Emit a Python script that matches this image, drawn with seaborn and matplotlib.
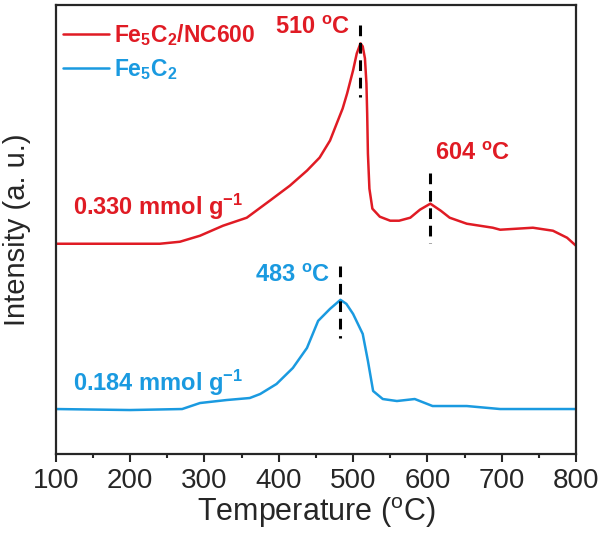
import numpy as np
import matplotlib
matplotlib.use("Agg")
import matplotlib.pyplot as plt
import seaborn as sns

# TPD curves (arbitrary intensity units)
temp_nc600 = [100, 186, 240, 267, 294, 325, 357, 388, 415, 438, 455, 469, 478,
              486, 492, 500, 505, 510, 513, 516, 518, 519, 520, 522, 526, 536,
              550, 562, 577, 590, 604, 618, 630, 653, 688, 698, 742, 769, 788, 800]
int_nc600 = [210, 210, 210, 212, 218, 228, 236, 253, 268, 283, 296, 313, 330,
             345, 360, 383, 400, 410, 407, 395, 370, 340, 300, 265, 245, 237,
             233, 233, 236, 244, 250, 243, 236, 230, 226, 224, 226, 223, 216, 208]

temp_fe5c2 = [100, 200, 270, 294, 330, 361, 375, 397, 419, 438, 453, 469, 483,
              491, 500, 513, 520, 527, 540, 559, 583, 607, 653, 698, 800]
int_fe5c2 = [45, 44, 45, 51, 54, 56, 60, 70, 86, 106, 133, 145, 154,
             150, 140, 120, 93, 63, 55, 53, 55, 48, 48, 45, 45]

labels = [r"$\mathbf{Fe_5C_2}$/NC600", r"$\mathbf{Fe_5C_2}$"]
colors = ["#e01b24", "#1a9ae0"]
peak_temps = [510, 604, 483]
peak_ranges = [(356, 428), (211, 281), (116, 188)]
uptake = ["0.330", "0.184"]

sns.set_style("ticks")
plt.rcParams["font.family"] = ["Liberation Sans", "DejaVu Sans"]
plt.rcParams["mathtext.fontset"] = "custom"
plt.rcParams["mathtext.rm"] = "Liberation Sans"
plt.rcParams["mathtext.it"] = "Liberation Sans:italic"
plt.rcParams["mathtext.bf"] = "Liberation Sans:bold"

fig = plt.figure(figsize=(6, 5.33), dpi=100)
ax = fig.add_axes([0.093, 0.148, 0.867, 0.842])

sns.lineplot(x=temp_nc600, y=int_nc600, color=colors[0], lw=1.8, ax=ax, label=labels[0])
sns.lineplot(x=temp_fe5c2, y=int_fe5c2, color=colors[1], lw=1.8, ax=ax, label=labels[1])

for t, (lo, hi) in zip(peak_temps, peak_ranges):
    ax.plot([t, t], [hi, lo], color="black", lw=2.2, ls=(0, (3.5, 2.2)))

ax.text(496, 426, r"510 $\mathbf{^o}$C", color=colors[0], fontsize=17,
        fontweight="bold", ha="right", va="center")
ax.text(610, 300, r"604 $\mathbf{^o}$C", color=colors[0], fontsize=17,
        fontweight="bold", ha="left", va="center")
ax.text(469, 178, r"483 $\mathbf{^o}$C", color=colors[1], fontsize=17,
        fontweight="bold", ha="right", va="center")
ax.text(123, 247, uptake[0] + r" mmol g$\mathbf{^{-1}}$", color=colors[0],
        fontsize=17, fontweight="bold", ha="left", va="center")
ax.text(123, 71, uptake[1] + r" mmol g$\mathbf{^{-1}}$", color=colors[1],
        fontsize=17, fontweight="bold", ha="left", va="center")

leg = ax.legend(loc="upper left", bbox_to_anchor=(0.0, 0.978), frameon=False,
                labelcolor="linecolor", handlelength=2.0, handletextpad=0.25,
                borderaxespad=0.0, borderpad=0.3, labelspacing=0.4,
                prop={"size": 16.5, "weight": "bold"})

ax.set_xlim(100, 800)
ax.set_ylim(0, 448)
ax.set_xticks(np.arange(100, 801, 100))
ax.set_xticks(np.arange(150, 800, 100), minor=True)
ax.set_yticks([])
ax.tick_params(axis="x", which="major", direction="out", length=6, width=1.5,
               labelsize=20, pad=4)
ax.tick_params(axis="x", which="minor", direction="out", length=3, width=1.5)
for s in ax.spines.values():
    s.set_linewidth(1.6)
    s.set_visible(True)

ax.set_xlabel(r"Temperature ($^{\rm o}$C)", fontsize=22, labelpad=1)
ax.set_ylabel("Intensity (a. u.)", fontsize=21, labelpad=18)

fig.savefig("out.png", dpi=100)
